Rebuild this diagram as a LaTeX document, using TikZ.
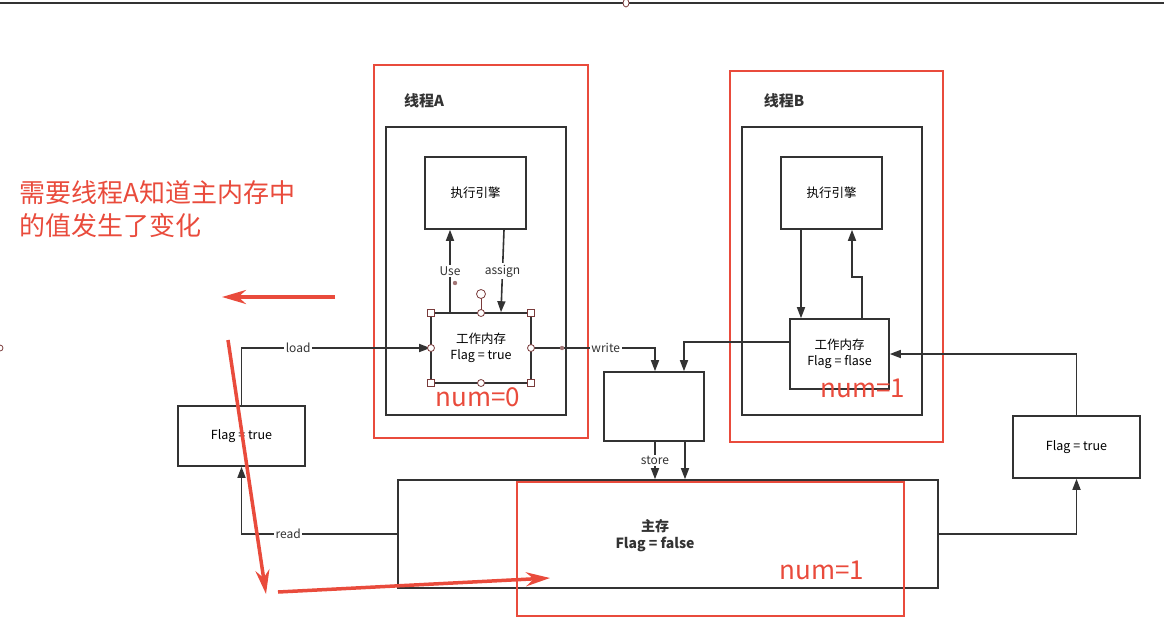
\documentclass[tikz,border=0pt]{standalone}
\usepackage{fontspec}
\setmainfont{Noto Sans CJK SC}
\usetikzlibrary{arrows.meta}
\definecolor{redline}{HTML}{E94B3C}
\definecolor{darkline}{HTML}{333333}
\definecolor{handle}{HTML}{7A3B3B}
\tikzset{
  box/.style={draw=darkline, line width=1.6pt, align=center, inner sep=0pt, font=\fontsize{12.5}{15.5}\selectfont},
  redbox/.style={draw=redline, line width=2.4pt},
  conn/.style={draw=darkline, line width=1.6pt, -{Triangle[length=11pt,width=8pt]}},
  lbl/.style={fill=white, inner sep=1.5pt, font=\fontsize{12}{14}\selectfont, text=darkline},
  bigred/.style={redline, line width=3.5pt, -{Stealth[length=24pt,width=14pt]}},
  hnd/.style={draw=handle, fill=white, line width=0.8pt}
}
\begin{document}
\begin{tikzpicture}[x=1pt,y=-1pt]
\useasboundingbox (0,0) rectangle (1164,627);

\draw[darkline, line width=2.5pt] (0,3) -- (1164,3);
\draw[hnd] (626,3) ellipse (3 and 4);
\draw[hnd] (0,348) circle (3);

% thread A
\draw[redbox] (374,65) rectangle (588,438);
\node[font=\bfseries\fontsize{15}{18}\selectfont, text=darkline] (tA) at (424,101) {线程A};
\draw[darkline, line width=1.6pt] (386,127) rectangle (566,415);
\node[box, minimum width=101pt, minimum height=72pt] (engA) at (475.5,193) {执行引擎};
\node[box, minimum width=100pt, minimum height=70pt] (memA) at (481,348) {工作内存\\Flag = true};
\node[text=redline, font=\fontsize{26}{30}\selectfont] (n0) at (478,397) {num=0};

% thread B
\draw[redbox] (730,71) rectangle (943,442);
\node[font=\bfseries\fontsize{15}{18}\selectfont, text=darkline] (tB) at (784,101) {线程B};
\draw[darkline, line width=1.6pt] (742,127) rectangle (922,415);
\node[box, minimum width=101pt, minimum height=72pt] (engB) at (831.5,193) {执行引擎};
\node[box, minimum width=99pt, minimum height=70pt] (memB) at (839.5,354) {工作内存\\Flag = flase};
\node[text=redline, font=\fontsize{26}{30}\selectfont] (n1) at (863,388) {num=1};

% buffer, flags, main memory
\node[box, minimum width=100pt, minimum height=69pt] (buf) at (654,406.5) {};
\node[box, minimum width=127pt, minimum height=60pt] (flagL) at (241.5,436) {Flag = true};
\node[box, minimum width=127pt, minimum height=62pt] (flagR) at (1076.5,447) {Flag = true};
\node[box, minimum width=540pt, minimum height=108pt] (main) at (668,534) {};
\node[font=\bfseries\fontsize{14}{17}\selectfont, text=darkline, align=center] (mainT) at (655,536) {主存\\Flag = false};
\draw[redbox] (517,482) rectangle (904,616);
\node[text=redline, font=\fontsize{26}{30}\selectfont] (n2) at (822,570) {num=1};

% connectors
\draw[conn] (memA.north -| 450,0) -- node[lbl] {Use} (engA.south -| 450,0);
\draw[conn] (engA.south -| 504,0) -- node[lbl] {assign} (memA.north -| 501,0);
\draw[conn] (flagL.north) |- node[lbl, pos=0.65] {load} (memA.west);
\draw[conn] (memA.east) -| node[lbl, pos=0.3] {write} (buf.north -| 655,0);
\draw[conn] (memB.west |- 0,342) -| (buf.north -| 684,0);
\draw[conn] (buf.south -| 655,0) -- node[lbl] {store} (main.north -| 655,0);
\draw[conn] (buf.south -| 685,0) -- (main.north -| 685,0);
\draw[conn] (engB.south -| 801,0) -- (memB.north -| 801,0);
\draw[conn] (memB.north -| 862,0) |- (852,277) -- (engB.south -| 852,0);
\draw[conn] (main.west) -| node[lbl, pos=0.35] {read} (flagL.south);
\draw[conn] (main.east) -| (flagR.south);
\draw[conn] (flagR.north) |- (memB.east);

% selection handles
\foreach \p in {(431,313),(531,313),(431,383),(531,383)}
  \draw[hnd] \p ++(-3.5,-3.5) rectangle ++(7,7);
\foreach \p in {(481,313),(481,383),(431,348),(531,348)}
  \draw[hnd] \p circle (3.5);
\draw[handle, line width=0.8pt] (481,310) -- (481,298);
\draw[hnd] (481,294) circle (4.5);
\fill[handle!70] (455,283) circle (2.2);
\fill[handle!70] (562,348) circle (2.2);

% annotation
\node[text=redline, anchor=west, align=left, font=\fontsize{26}{33}\selectfont] (note) at (16,209) {需要线程A知道主内存中\\的值发生了变化};
\coordinate (a1) at (335,297);
\coordinate (a2) at (222,297);
\coordinate (b1) at (228,340);
\coordinate (b2) at (266,594);
\coordinate (c1) at (278,592);
\coordinate (c2) at (550,578);
\draw[bigred] (a1) -- (a2);
\draw[bigred] (b1) -- (b2);
\draw[bigred] (c1) -- (c2);
\end{tikzpicture}
\end{document}
